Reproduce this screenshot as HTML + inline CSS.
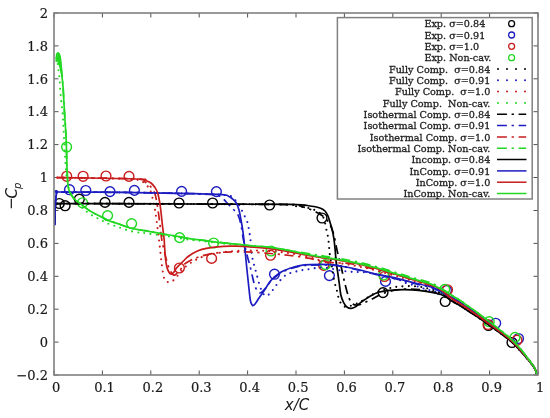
<!DOCTYPE html><html><head><meta charset="utf-8"><style>html,body{margin:0;padding:0;background:#fff;width:550px;height:418px;overflow:hidden}svg{display:block}</style></head><body>
<svg width="550" height="418" viewBox="0 0 550 418">
<rect width="550" height="418" fill="#fff"/>
<path d="M54.0,375.0v-4.5M54.0,13.0v4.5M102.4,375.0v-4.5M102.4,13.0v4.5M150.8,375.0v-4.5M150.8,13.0v4.5M199.2,375.0v-4.5M199.2,13.0v4.5M247.6,375.0v-4.5M247.6,13.0v4.5M296.0,375.0v-4.5M296.0,13.0v4.5M344.4,375.0v-4.5M344.4,13.0v4.5M392.8,375.0v-4.5M392.8,13.0v4.5M441.2,375.0v-4.5M441.2,13.0v4.5M489.6,375.0v-4.5M489.6,13.0v4.5M538.0,375.0v-4.5M538.0,13.0v4.5M54.0,375.0h4.5M538.0,375.0h-4.5M54.0,342.1h4.5M538.0,342.1h-4.5M54.0,309.2h4.5M538.0,309.2h-4.5M54.0,276.3h4.5M538.0,276.3h-4.5M54.0,243.4h4.5M538.0,243.4h-4.5M54.0,210.5h4.5M538.0,210.5h-4.5M54.0,177.5h4.5M538.0,177.5h-4.5M54.0,144.6h4.5M538.0,144.6h-4.5M54.0,111.7h4.5M538.0,111.7h-4.5M54.0,78.8h4.5M538.0,78.8h-4.5M54.0,45.9h4.5M538.0,45.9h-4.5M54.0,13.0h4.5M538.0,13.0h-4.5" stroke="#505050" stroke-width="1.0" fill="none"/>
<defs><clipPath id="cp"><rect x="54" y="13" width="484" height="362"/></clipPath></defs>
<g clip-path="url(#cp)" fill="none" stroke-width="1.7" stroke-linejoin="round">
<circle cx="59.3" cy="203.5" r="4.9" stroke="#000000" stroke-width="1.4"/>
<circle cx="65.1" cy="205.7" r="4.9" stroke="#000000" stroke-width="1.4"/>
<circle cx="79.3" cy="199.2" r="4.9" stroke="#000000" stroke-width="1.4"/>
<circle cx="105.0" cy="202.4" r="4.9" stroke="#000000" stroke-width="1.4"/>
<circle cx="129.0" cy="202.4" r="4.9" stroke="#000000" stroke-width="1.4"/>
<circle cx="179.0" cy="203.0" r="4.9" stroke="#000000" stroke-width="1.4"/>
<circle cx="212.6" cy="203.0" r="4.9" stroke="#000000" stroke-width="1.4"/>
<circle cx="269.6" cy="205.0" r="4.9" stroke="#000000" stroke-width="1.4"/>
<circle cx="322.0" cy="218.0" r="4.9" stroke="#000000" stroke-width="1.4"/>
<circle cx="383.0" cy="292.6" r="4.9" stroke="#000000" stroke-width="1.4"/>
<circle cx="445.2" cy="301.5" r="4.9" stroke="#000000" stroke-width="1.4"/>
<circle cx="488.5" cy="325.5" r="4.9" stroke="#000000" stroke-width="1.4"/>
<circle cx="512.0" cy="342.5" r="4.9" stroke="#000000" stroke-width="1.4"/>
<circle cx="69.5" cy="189.7" r="4.9" stroke="#1c1cc0" stroke-width="1.4"/>
<circle cx="85.8" cy="190.5" r="4.9" stroke="#1c1cc0" stroke-width="1.4"/>
<circle cx="110.0" cy="191.6" r="4.9" stroke="#1c1cc0" stroke-width="1.4"/>
<circle cx="134.4" cy="190.4" r="4.9" stroke="#1c1cc0" stroke-width="1.4"/>
<circle cx="181.6" cy="191.4" r="4.9" stroke="#1c1cc0" stroke-width="1.4"/>
<circle cx="216.4" cy="191.6" r="4.9" stroke="#1c1cc0" stroke-width="1.4"/>
<circle cx="274.5" cy="274.2" r="4.9" stroke="#1c1cc0" stroke-width="1.4"/>
<circle cx="329.4" cy="275.6" r="4.9" stroke="#1c1cc0" stroke-width="1.4"/>
<circle cx="385.5" cy="281.4" r="4.9" stroke="#1c1cc0" stroke-width="1.4"/>
<circle cx="446.5" cy="290.5" r="4.9" stroke="#1c1cc0" stroke-width="1.4"/>
<circle cx="495.7" cy="323.3" r="4.9" stroke="#1c1cc0" stroke-width="1.4"/>
<circle cx="518.5" cy="338.5" r="4.9" stroke="#1c1cc0" stroke-width="1.4"/>
<circle cx="66.7" cy="176.3" r="4.9" stroke="#c81c1c" stroke-width="1.4"/>
<circle cx="83.1" cy="176.3" r="4.9" stroke="#c81c1c" stroke-width="1.4"/>
<circle cx="106.0" cy="176.0" r="4.9" stroke="#c81c1c" stroke-width="1.4"/>
<circle cx="129.0" cy="176.4" r="4.9" stroke="#c81c1c" stroke-width="1.4"/>
<circle cx="179.4" cy="268.0" r="4.9" stroke="#c81c1c" stroke-width="1.4"/>
<circle cx="211.6" cy="258.4" r="4.9" stroke="#c81c1c" stroke-width="1.4"/>
<circle cx="270.5" cy="255.2" r="4.9" stroke="#c81c1c" stroke-width="1.4"/>
<circle cx="323.7" cy="265.4" r="4.9" stroke="#c81c1c" stroke-width="1.4"/>
<circle cx="384.5" cy="276.5" r="4.9" stroke="#c81c1c" stroke-width="1.4"/>
<circle cx="447.5" cy="289.8" r="4.9" stroke="#c81c1c" stroke-width="1.4"/>
<circle cx="488.0" cy="324.5" r="4.9" stroke="#c81c1c" stroke-width="1.4"/>
<circle cx="517.0" cy="340.2" r="4.9" stroke="#c81c1c" stroke-width="1.4"/>
<circle cx="66.6" cy="147.0" r="4.9" stroke="#22d822" stroke-width="1.4"/>
<circle cx="82.5" cy="202.8" r="4.9" stroke="#22d822" stroke-width="1.4"/>
<circle cx="107.6" cy="215.6" r="4.9" stroke="#22d822" stroke-width="1.4"/>
<circle cx="131.6" cy="223.6" r="4.9" stroke="#22d822" stroke-width="1.4"/>
<circle cx="179.6" cy="237.6" r="4.9" stroke="#22d822" stroke-width="1.4"/>
<circle cx="213.6" cy="243.0" r="4.9" stroke="#22d822" stroke-width="1.4"/>
<circle cx="271.0" cy="251.0" r="4.9" stroke="#22d822" stroke-width="1.4"/>
<circle cx="325.5" cy="264.6" r="4.9" stroke="#22d822" stroke-width="1.4"/>
<circle cx="383.6" cy="275.0" r="4.9" stroke="#22d822" stroke-width="1.4"/>
<circle cx="444.7" cy="289.4" r="4.9" stroke="#22d822" stroke-width="1.4"/>
<circle cx="489.2" cy="321.7" r="4.9" stroke="#22d822" stroke-width="1.4"/>
<circle cx="515.0" cy="337.4" r="4.9" stroke="#22d822" stroke-width="1.4"/>
<path d="M54.4,224.0 C54.5,221.5 54.7,212.3 54.9,209.0 C55.1,205.7 55.3,204.9 55.8,204.0 C56.3,203.1 50.6,203.7 58.0,203.6 C65.4,203.5 78.0,203.5 100.0,203.6 C122.0,203.7 159.2,203.8 190.0,204.0 C220.8,204.2 267.7,204.3 285.0,204.6 C302.3,204.9 291.0,205.6 294.0,206.0 C297.0,206.4 300.0,206.5 303.0,207.0 C306.0,207.5 309.2,208.0 312.0,209.0 C314.8,210.0 318.0,211.3 320.0,213.0 C322.0,214.7 323.0,216.5 324.0,219.0 C325.0,221.5 325.3,225.0 326.0,228.0 C326.7,231.0 327.5,234.0 328.0,237.0 C328.5,240.0 328.7,242.8 329.0,246.0 C329.3,249.2 329.5,252.5 330.0,256.0 C330.5,259.5 331.3,263.0 332.0,267.0 C332.7,271.0 333.2,276.0 334.0,280.0 C334.8,284.0 336.2,287.8 337.0,291.0 C337.8,294.2 338.0,296.5 339.0,299.0 C340.0,301.5 341.2,304.8 343.0,306.0 C344.8,307.2 347.2,306.7 350.0,306.0 C352.8,305.3 356.7,303.7 360.0,302.0 C363.3,300.3 366.7,297.8 370.0,296.0 C373.3,294.2 376.7,292.3 380.0,291.0 C383.3,289.7 386.7,288.8 390.0,288.0 C393.3,287.2 396.0,286.8 400.0,286.5 C404.0,286.2 409.7,285.9 414.0,286.2 C418.3,286.4 422.3,287.2 426.0,288.0 C429.7,288.8 432.8,289.8 436.0,291.0 C439.2,292.2 442.3,293.8 445.0,295.5 C447.7,297.2 449.6,299.5 452.0,301.1 C454.4,302.8 456.7,303.6 459.6,305.3 C462.5,307.1 466.0,309.5 469.2,311.6 C472.4,313.7 475.5,315.6 478.7,317.8 C481.9,320.0 485.0,322.2 488.3,324.5 C491.6,326.9 495.3,329.5 498.5,331.9 C501.7,334.2 505.1,336.7 507.7,338.7 C510.3,340.7 511.9,342.1 514.0,344.1 C516.1,346.1 518.2,348.4 520.3,350.8 C522.4,353.1 524.6,355.6 526.7,358.1 C528.8,360.6 531.5,363.8 533.0,365.8 C534.5,367.9 535.0,369.2 535.6,370.5 C536.2,371.8 536.3,372.8 536.5,373.5 C536.7,374.3 536.9,374.8 537.0,375.0" stroke="#000000" stroke-dasharray="0 6.2" stroke-linecap="round" stroke-width="2.1"/>
<path d="M54.8,224.4 C54.8,222.8 54.9,218.4 55.0,215.0 C55.1,211.6 55.2,207.0 55.4,204.0 C55.6,201.0 55.7,199.1 56.0,197.0 C56.3,194.9 56.5,192.0 57.0,191.2 C57.5,190.4 51.8,191.8 59.0,192.0 C66.2,192.2 84.8,192.1 100.0,192.2 C115.2,192.3 135.0,192.6 150.0,192.8 C165.0,193.0 177.5,193.2 190.0,193.6 C202.5,194.0 217.8,194.3 225.0,195.0 C232.2,195.7 230.7,196.3 233.0,198.0 C235.3,199.7 237.3,202.5 239.0,205.0 C240.7,207.5 241.7,210.3 243.0,213.0 C244.3,215.7 246.0,218.2 247.0,221.0 C248.0,223.8 248.4,226.8 249.0,230.0 C249.6,233.2 250.0,235.7 250.5,240.0 C251.0,244.3 251.1,250.7 252.0,256.0 C252.9,261.3 254.5,266.5 256.0,272.0 C257.5,277.5 259.3,285.0 261.0,289.0 C262.7,293.0 264.2,295.7 266.0,296.0 C267.8,296.3 270.0,293.2 272.0,291.0 C274.0,288.8 275.7,285.7 278.0,283.0 C280.3,280.3 282.7,277.0 286.0,275.0 C289.3,273.0 294.0,272.0 298.0,271.0 C302.0,270.0 305.7,269.6 310.0,269.0 C314.3,268.4 318.0,267.1 324.0,267.5 C330.0,267.9 339.3,270.6 346.0,271.4 C352.7,272.2 358.3,271.7 364.0,272.3 C369.7,272.9 374.3,273.8 380.0,275.0 C385.7,276.2 393.7,278.2 398.0,279.5 C402.3,280.8 403.2,282.0 406.0,283.0 C408.8,284.0 411.7,284.5 414.5,285.4 C417.3,286.3 419.9,287.4 422.7,288.3 C425.4,289.2 428.1,289.7 431.0,290.5 C433.9,291.3 436.5,291.8 440.0,293.0 C443.5,294.2 448.7,296.3 452.0,297.8 C455.3,299.4 456.7,300.4 459.6,302.3 C462.5,304.1 466.0,306.7 469.2,308.8 C472.4,311.0 475.5,313.1 478.7,315.4 C481.9,317.7 485.0,320.0 488.3,322.5 C491.6,324.9 495.3,327.6 498.5,330.1 C501.7,332.5 505.1,335.1 507.7,337.2 C510.3,339.3 511.9,340.7 514.0,342.8 C516.1,344.8 518.2,347.2 520.3,349.6 C522.4,352.1 524.6,354.7 526.7,357.4 C528.8,360.0 531.5,363.4 533.0,365.6 C534.5,367.7 535.0,369.1 535.6,370.4 C536.2,371.7 536.3,372.7 536.5,373.5 C536.7,374.3 536.9,374.7 537.0,375.0" stroke="#1c1cc0" stroke-dasharray="0 6.2" stroke-linecap="round" stroke-width="2.1"/>
<path d="M57.0,177.6 C62.5,177.7 77.0,177.7 90.0,178.0 C103.0,178.3 125.8,178.5 135.0,179.5 C144.2,180.5 142.5,182.2 145.0,184.0 C147.5,185.8 148.7,187.3 150.0,190.0 C151.3,192.7 152.2,196.7 153.0,200.0 C153.8,203.3 154.4,206.7 155.0,210.0 C155.6,213.3 156.0,216.3 156.5,220.0 C157.0,223.7 157.5,227.8 158.0,232.0 C158.5,236.2 159.0,240.0 159.6,245.0 C160.2,250.0 160.8,256.8 161.5,262.0 C162.2,267.2 162.8,272.8 163.5,276.0 C164.2,279.2 164.9,280.0 166.0,281.0 C167.1,282.0 168.5,282.3 170.0,282.0 C171.5,281.7 173.0,281.0 175.0,279.0 C177.0,277.0 179.2,272.8 182.0,270.0 C184.8,267.2 188.2,264.3 192.0,262.0 C195.8,259.7 199.5,257.7 205.0,256.0 C210.5,254.3 217.5,252.9 225.0,252.0 C232.5,251.1 241.7,250.6 250.0,250.5 C258.3,250.4 266.7,250.8 275.0,251.5 C283.3,252.2 291.8,253.4 300.0,255.0 C308.2,256.6 316.5,259.5 324.0,261.0 C331.5,262.5 337.3,262.7 345.0,264.0 C352.7,265.3 361.8,267.1 370.0,269.0 C378.2,270.9 387.0,273.6 394.0,275.5 C401.0,277.4 405.8,278.8 412.0,280.5 C418.2,282.2 426.3,284.4 431.0,286.0 C435.7,287.6 436.5,287.9 440.0,290.0 C443.5,292.1 448.7,296.6 452.0,298.8 C455.3,301.0 456.7,301.4 459.6,303.2 C462.5,305.0 466.0,307.6 469.2,309.7 C472.4,311.9 475.5,314.0 478.7,316.3 C481.9,318.5 485.0,320.9 488.3,323.3 C491.6,325.7 495.3,328.3 498.5,330.7 C501.7,333.1 505.1,335.6 507.7,337.7 C510.3,339.8 511.9,341.1 514.0,343.1 C516.1,345.2 518.2,347.5 520.3,349.9 C522.4,352.3 524.6,354.9 526.7,357.6 C528.8,360.2 531.5,363.5 533.0,365.6 C534.5,367.8 535.0,369.1 535.6,370.4 C536.2,371.7 536.3,372.7 536.5,373.5 C536.7,374.3 536.9,374.8 537.0,375.0" stroke="#c81c1c" stroke-dasharray="0 6.2" stroke-linecap="round" stroke-width="2.1"/>
<path d="M56.5,58.0 C56.6,58.7 57.1,60.0 57.4,62.0 C57.7,64.0 58.1,67.2 58.5,70.0 C58.9,72.8 59.2,75.8 59.5,79.0 C59.8,82.2 59.9,85.8 60.1,89.0 C60.4,92.2 60.7,95.4 61.0,98.4 C61.3,101.4 61.7,104.3 62.0,107.2 C62.3,110.1 62.6,113.0 62.8,115.9 C63.0,118.9 63.2,121.9 63.4,124.9 C63.6,127.9 63.6,130.0 63.8,133.7 C64.0,137.4 64.2,142.5 64.5,147.0 C64.8,151.5 65.0,156.2 65.3,160.9 C65.6,165.6 66.0,170.8 66.5,175.0 C67.0,179.2 67.4,183.2 68.0,186.0 C68.6,188.8 68.8,189.6 70.0,192.0 C71.2,194.4 73.2,198.3 75.0,200.7 C76.8,203.1 79.3,205.0 81.0,206.6 C82.7,208.2 83.5,208.8 85.0,210.1 C86.5,211.4 88.2,213.0 90.0,214.2 C91.8,215.4 94.2,216.5 95.9,217.4 C97.6,218.3 98.2,218.5 100.0,219.4 C101.8,220.3 105.1,222.2 106.8,223.0 C108.5,223.8 108.0,223.6 110.0,224.3 C112.0,225.0 115.4,226.0 118.5,227.1 C121.6,228.2 125.3,229.8 128.8,230.7 C132.3,231.6 136.8,232.2 139.5,232.6 C142.2,233.0 141.7,232.7 145.0,233.1 C148.3,233.6 154.7,234.5 159.5,235.2 C164.3,235.9 170.7,236.8 174.1,237.3 C177.5,237.8 177.2,237.8 180.0,238.3 C182.8,238.7 187.3,239.4 190.9,239.9 C194.5,240.3 198.2,240.6 201.8,241.0 C205.4,241.4 209.1,242.0 212.7,242.4 C216.3,242.9 220.0,243.2 223.6,243.6 C227.2,243.9 230.1,244.1 234.5,244.5 C238.9,244.9 244.1,245.6 250.0,246.1 C255.9,246.6 263.3,246.9 270.0,247.8 C276.7,248.6 283.3,249.7 290.0,251.0 C296.7,252.3 304.2,254.2 310.0,255.4 C315.8,256.5 320.0,257.1 325.0,257.9 C330.0,258.7 334.5,259.2 340.0,260.2 C345.5,261.1 352.0,262.3 358.0,263.7 C364.0,265.0 370.0,266.5 376.0,268.1 C382.0,269.8 388.0,271.7 394.0,273.5 C400.0,275.3 405.8,277.1 412.0,278.9 C418.2,280.7 426.3,282.7 431.0,284.4 C435.7,286.1 436.5,287.1 440.0,288.9 C443.5,290.7 448.7,293.6 452.0,295.5 C455.3,297.3 456.7,298.2 459.6,300.1 C462.5,302.0 466.0,304.6 469.2,306.9 C472.4,309.1 475.5,311.3 478.7,313.7 C481.9,316.0 485.0,318.4 488.3,320.9 C491.6,323.5 495.3,326.3 498.5,328.8 C501.7,331.3 505.1,333.9 507.7,336.1 C510.3,338.3 511.9,339.7 514.0,341.8 C516.1,343.9 518.2,346.3 520.3,348.8 C522.4,351.3 524.6,354.1 526.7,356.9 C528.8,359.7 531.5,363.1 533.0,365.4 C534.5,367.6 535.0,369.0 535.6,370.3 C536.2,371.7 536.3,372.7 536.5,373.5 C536.7,374.3 536.9,374.7 537.0,375.0" stroke="#22d822" stroke-dasharray="0 6.2" stroke-linecap="round" stroke-width="2.1"/>
<path d="M54.4,224.0 C54.5,221.5 54.7,212.3 54.9,209.0 C55.1,205.7 55.3,204.9 55.8,204.0 C56.3,203.1 50.6,203.7 58.0,203.6 C65.4,203.5 78.0,203.5 100.0,203.6 C122.0,203.7 158.3,203.8 190.0,204.0 C221.7,204.2 271.7,204.3 290.0,204.6 C308.3,204.9 297.0,205.3 300.0,206.0 C303.0,206.7 305.0,207.3 308.0,208.5 C311.0,209.7 314.8,211.1 318.0,213.0 C321.2,214.9 324.5,216.8 327.0,220.0 C329.5,223.2 331.3,227.0 333.0,232.0 C334.7,237.0 335.7,244.3 337.0,250.0 C338.3,255.7 339.7,260.3 341.0,266.0 C342.3,271.7 343.7,278.7 345.0,284.0 C346.3,289.3 347.7,294.7 349.0,298.0 C350.3,301.3 351.5,302.8 353.0,304.0 C354.5,305.2 356.2,305.2 358.0,305.0 C359.8,304.8 361.7,304.0 364.0,303.0 C366.3,302.0 369.0,300.5 372.0,299.0 C375.0,297.5 378.0,295.5 382.0,294.0 C386.0,292.5 391.3,290.8 396.0,290.0 C400.7,289.2 405.0,288.9 410.0,289.0 C415.0,289.1 421.0,289.6 426.0,290.5 C431.0,291.4 435.7,292.7 440.0,294.5 C444.3,296.3 448.7,299.3 452.0,301.1 C455.3,303.0 456.7,303.6 459.6,305.3 C462.5,307.1 466.0,309.5 469.2,311.6 C472.4,313.7 475.5,315.6 478.7,317.8 C481.9,320.0 485.0,322.2 488.3,324.5 C491.6,326.9 495.3,329.5 498.5,331.9 C501.7,334.2 505.1,336.7 507.7,338.7 C510.3,340.7 511.9,342.1 514.0,344.1 C516.1,346.1 518.2,348.4 520.3,350.8 C522.4,353.1 524.6,355.6 526.7,358.1 C528.8,360.6 531.5,363.8 533.0,365.8 C534.5,367.9 535.0,369.2 535.6,370.5 C536.2,371.8 536.3,372.8 536.5,373.5 C536.7,374.3 536.9,374.8 537.0,375.0" stroke="#000000" stroke-dasharray="9 4.6 2.3 4.6"/>
<path d="M54.8,224.4 C54.8,222.8 54.9,218.4 55.0,215.0 C55.1,211.6 55.2,207.0 55.4,204.0 C55.6,201.0 55.7,199.1 56.0,197.0 C56.3,194.9 56.5,192.0 57.0,191.2 C57.5,190.4 51.8,191.8 59.0,192.0 C66.2,192.2 84.8,192.1 100.0,192.2 C115.2,192.3 135.0,192.6 150.0,192.8 C165.0,193.0 179.2,193.3 190.0,193.6 C200.8,193.9 209.7,194.1 215.0,194.8 C220.3,195.5 219.8,196.5 222.0,198.0 C224.2,199.5 226.2,202.2 228.0,204.0 C229.8,205.8 231.3,207.2 233.0,209.0 C234.7,210.8 236.7,212.3 238.0,215.0 C239.3,217.7 240.1,220.8 241.0,225.0 C241.9,229.2 242.5,235.0 243.5,240.0 C244.5,245.0 245.9,250.7 247.0,255.0 C248.1,259.3 249.0,262.0 250.0,266.0 C251.0,270.0 252.2,275.7 253.0,279.0 C253.8,282.3 254.2,283.9 255.0,286.0 C255.8,288.1 256.7,290.3 257.5,291.5 C258.3,292.7 259.1,293.1 260.0,293.0 C260.9,292.9 262.0,291.9 263.0,291.0 C264.0,290.1 264.7,289.1 266.0,287.5 C267.3,285.9 268.9,283.4 270.6,281.5 C272.3,279.6 274.5,277.6 276.4,276.0 C278.3,274.4 279.8,273.2 282.1,272.0 C284.4,270.8 287.0,269.8 290.0,268.8 C293.0,267.8 296.7,266.6 300.0,266.0 C303.3,265.4 304.2,265.3 310.0,265.2 C315.8,265.1 327.0,264.5 335.0,265.3 C343.0,266.1 351.2,268.5 358.0,270.0 C364.8,271.5 370.0,273.1 376.0,274.5 C382.0,275.9 388.0,277.1 394.0,278.5 C400.0,279.9 405.8,281.5 412.0,283.0 C418.2,284.5 426.3,286.1 431.0,287.5 C435.7,288.9 436.5,289.8 440.0,291.5 C443.5,293.2 448.7,296.0 452.0,297.8 C455.3,299.6 456.7,300.4 459.6,302.3 C462.5,304.1 466.0,306.7 469.2,308.8 C472.4,311.0 475.5,313.1 478.7,315.4 C481.9,317.7 485.0,320.0 488.3,322.5 C491.6,324.9 495.3,327.6 498.5,330.1 C501.7,332.5 505.1,335.1 507.7,337.2 C510.3,339.3 511.9,340.7 514.0,342.8 C516.1,344.8 518.2,347.2 520.3,349.6 C522.4,352.1 524.6,354.7 526.7,357.4 C528.8,360.0 531.5,363.4 533.0,365.6 C534.5,367.7 535.0,369.1 535.6,370.4 C536.2,371.7 536.3,372.7 536.5,373.5 C536.7,374.3 536.9,374.7 537.0,375.0" stroke="#1c1cc0" stroke-dasharray="9 4.6 2.3 4.6"/>
<path d="M57.0,177.6 C62.5,177.7 76.5,177.8 90.0,178.0 C103.5,178.2 128.8,178.3 138.0,179.0 C147.2,179.7 143.0,180.8 145.0,182.0 C147.0,183.2 148.3,184.0 150.0,186.0 C151.7,188.0 153.7,190.0 155.0,194.0 C156.3,198.0 157.2,204.8 158.0,210.0 C158.8,215.2 159.4,220.0 160.0,225.0 C160.6,230.0 161.1,235.8 161.8,240.0 C162.5,244.2 163.2,246.7 164.0,250.0 C164.8,253.3 165.7,257.0 166.5,260.0 C167.3,263.0 168.1,265.8 169.0,268.0 C169.9,270.2 171.0,272.3 172.0,273.5 C173.0,274.7 173.7,275.6 175.0,275.0 C176.3,274.4 178.2,272.0 180.0,270.0 C181.8,268.0 182.7,265.2 186.0,263.0 C189.3,260.8 194.3,258.2 200.0,256.5 C205.7,254.8 212.3,253.3 220.0,252.5 C227.7,251.7 237.7,251.7 246.0,251.9 C254.3,252.1 262.7,252.9 270.0,253.5 C277.3,254.1 283.3,254.7 290.0,255.5 C296.7,256.3 304.3,257.3 310.0,258.4 C315.7,259.5 319.0,261.2 324.0,262.0 C329.0,262.8 335.3,262.7 340.0,263.0 C344.7,263.3 347.5,263.2 352.0,264.0 C356.5,264.8 360.7,266.0 367.0,267.5 C373.3,269.0 382.5,271.0 390.0,273.0 C397.5,275.0 405.2,277.3 412.0,279.5 C418.8,281.7 426.3,284.2 431.0,286.0 C435.7,287.8 436.5,287.9 440.0,290.0 C443.5,292.1 448.7,296.6 452.0,298.8 C455.3,301.0 456.7,301.4 459.6,303.2 C462.5,305.0 466.0,307.6 469.2,309.7 C472.4,311.9 475.5,314.0 478.7,316.3 C481.9,318.5 485.0,320.9 488.3,323.3 C491.6,325.7 495.3,328.3 498.5,330.7 C501.7,333.1 505.1,335.6 507.7,337.7 C510.3,339.8 511.9,341.1 514.0,343.1 C516.1,345.2 518.2,347.5 520.3,349.9 C522.4,352.3 524.6,354.9 526.7,357.6 C528.8,360.2 531.5,363.5 533.0,365.6 C534.5,367.8 535.0,369.1 535.6,370.4 C536.2,371.7 536.3,372.7 536.5,373.5 C536.7,374.3 536.9,374.8 537.0,375.0" stroke="#c81c1c" stroke-dasharray="9 4.6 2.3 4.6"/>
<path d="M61.3,68.0 C61.4,69.4 61.7,73.6 62.0,76.6 C62.3,79.6 62.7,82.1 63.0,86.0 C63.3,89.9 63.5,94.5 63.8,100.0 C64.1,105.5 64.5,112.9 64.9,118.7 C65.3,124.5 65.7,129.8 66.0,135.0 C66.3,140.2 66.3,144.5 66.5,150.0 C66.7,155.5 66.8,162.5 67.0,168.0 C67.2,173.5 67.5,179.3 67.8,183.0 C68.1,186.7 68.5,188.1 69.0,190.0 C69.5,191.9 70.0,192.9 71.0,194.5 C72.0,196.1 73.3,197.9 75.0,199.5 C76.7,201.1 79.3,203.0 81.0,204.3 C82.7,205.6 83.5,206.3 85.0,207.4 C86.5,208.5 88.2,209.9 90.0,211.0 C91.8,212.1 94.2,213.3 95.9,214.2 C97.6,215.1 98.2,215.3 100.0,216.2 C101.8,217.1 105.1,219.0 106.8,219.8 C108.5,220.6 108.0,220.4 110.0,221.1 C112.0,221.8 115.4,222.8 118.5,223.9 C121.6,225.0 125.3,226.5 128.8,227.5 C132.3,228.5 136.8,229.4 139.5,229.9 C142.2,230.4 141.7,230.1 145.0,230.7 C148.3,231.3 154.7,232.5 159.5,233.3 C164.3,234.2 170.7,235.2 174.1,235.8 C177.5,236.4 177.2,236.4 180.0,236.9 C182.8,237.4 187.3,238.2 190.9,238.8 C194.5,239.4 198.2,239.7 201.8,240.2 C205.4,240.7 209.1,241.2 212.7,241.7 C216.3,242.1 220.0,242.5 223.6,242.9 C227.2,243.3 230.1,243.5 234.5,243.9 C238.9,244.3 244.1,245.0 250.0,245.6 C255.9,246.2 263.3,246.5 270.0,247.3 C276.7,248.1 283.3,249.5 290.0,250.6 C296.7,251.7 304.2,252.9 310.0,253.8 C315.8,254.8 320.0,255.5 325.0,256.3 C330.0,257.1 334.5,257.6 340.0,258.6 C345.5,259.6 352.0,260.8 358.0,262.1 C364.0,263.4 370.0,265.0 376.0,266.6 C382.0,268.2 388.0,270.2 394.0,272.0 C400.0,273.8 405.8,275.6 412.0,277.4 C418.2,279.2 426.3,281.2 431.0,282.9 C435.7,284.6 436.5,285.3 440.0,287.4 C443.5,289.5 448.7,293.3 452.0,295.5 C455.3,297.6 456.7,298.2 459.6,300.1 C462.5,302.0 466.0,304.6 469.2,306.9 C472.4,309.1 475.5,311.3 478.7,313.7 C481.9,316.0 485.0,318.4 488.3,320.9 C491.6,323.5 495.3,326.3 498.5,328.8 C501.7,331.3 505.1,333.9 507.7,336.1 C510.3,338.3 511.9,339.7 514.0,341.8 C516.1,343.9 518.2,346.3 520.3,348.8 C522.4,351.3 524.6,354.1 526.7,356.9 C528.8,359.7 531.5,363.1 533.0,365.4 C534.5,367.6 535.0,369.0 535.6,370.3 C536.2,371.7 536.3,372.7 536.5,373.5 C536.7,374.3 536.9,374.7 537.0,375.0" stroke="#22d822" stroke-dasharray="9 4.6 2.3 4.6"/>
<path d="M54.4,224.0 C54.5,221.5 54.7,212.3 54.9,209.0 C55.1,205.7 55.3,204.9 55.8,204.0 C56.3,203.1 50.6,203.7 58.0,203.6 C65.4,203.5 78.0,203.5 100.0,203.6 C122.0,203.7 158.3,203.9 190.0,204.0 C221.7,204.1 270.0,204.1 290.0,204.4 C310.0,204.7 305.0,205.4 310.0,206.0 C315.0,206.6 317.5,207.2 320.0,208.0 C322.5,208.8 323.7,209.7 325.0,211.0 C326.3,212.3 327.3,214.5 328.0,216.0 C328.7,217.5 328.7,218.0 329.3,220.1 C329.9,222.2 331.1,225.4 331.9,228.5 C332.7,231.6 333.3,235.0 333.9,238.6 C334.4,242.2 334.8,246.4 335.2,250.3 C335.6,254.2 335.8,258.6 336.2,262.0 C336.6,265.4 337.0,267.5 337.5,271.0 C338.0,274.5 338.6,279.0 339.2,283.0 C339.8,287.0 340.1,291.6 340.8,294.8 C341.5,298.0 342.4,300.2 343.5,302.3 C344.6,304.4 345.8,306.2 347.2,307.2 C348.6,308.2 350.2,308.4 351.6,308.3 C353.1,308.2 354.5,307.5 355.9,306.6 C357.3,305.7 358.6,304.1 360.2,302.9 C361.8,301.6 363.5,300.5 365.6,299.1 C367.8,297.7 371.0,295.8 373.1,294.6 C375.2,293.5 375.8,292.9 378.5,292.2 C381.2,291.5 385.2,290.7 389.5,290.3 C393.8,289.9 399.2,289.6 404.1,289.6 C409.0,289.6 413.8,289.8 418.6,290.3 C423.5,290.8 429.1,291.7 433.2,292.6 C437.3,293.5 440.3,294.1 443.4,295.5 C446.5,296.9 449.3,299.5 452.0,301.1 C454.7,302.8 456.7,303.6 459.6,305.3 C462.5,307.1 466.0,309.5 469.2,311.6 C472.4,313.7 475.5,315.6 478.7,317.8 C481.9,320.0 485.0,322.2 488.3,324.5 C491.6,326.9 495.3,329.5 498.5,331.9 C501.7,334.2 505.1,336.7 507.7,338.7 C510.3,340.7 511.9,342.1 514.0,344.1 C516.1,346.1 518.2,348.4 520.3,350.8 C522.4,353.1 524.6,355.6 526.7,358.1 C528.8,360.6 531.5,363.8 533.0,365.8 C534.5,367.9 535.0,369.2 535.6,370.5 C536.2,371.8 536.3,372.8 536.5,373.5 C536.7,374.3 536.9,374.8 537.0,375.0" stroke="#000000"/>
<path d="M54.8,224.4 C54.8,222.8 54.9,218.4 55.0,215.0 C55.1,211.6 55.2,207.0 55.4,204.0 C55.6,201.0 55.7,199.1 56.0,197.0 C56.3,194.9 56.5,192.0 57.0,191.2 C57.5,190.4 51.8,191.8 59.0,192.0 C66.2,192.2 84.8,192.1 100.0,192.2 C115.2,192.3 135.0,192.6 150.0,192.8 C165.0,193.0 178.0,193.3 190.0,193.6 C202.0,193.9 215.7,194.2 222.0,194.6 C228.3,195.0 226.3,195.3 228.0,196.0 C229.7,196.7 230.7,197.4 232.0,198.5 C233.3,199.6 234.8,200.6 236.0,202.5 C237.2,204.4 238.2,207.1 239.0,210.0 C239.8,212.9 240.3,216.3 241.0,220.0 C241.7,223.7 242.3,227.0 243.0,232.0 C243.7,237.0 244.3,243.7 245.0,250.0 C245.7,256.3 246.3,263.5 247.0,270.0 C247.7,276.5 248.4,283.8 249.0,289.0 C249.6,294.2 249.9,298.2 250.5,301.0 C251.1,303.8 251.8,305.0 252.5,305.5 C253.2,306.0 253.9,305.2 255.0,304.0 C256.1,302.8 257.4,300.4 259.0,298.0 C260.6,295.6 263.4,291.8 264.9,289.6 C266.3,287.4 266.8,286.4 267.7,285.0 C268.6,283.6 269.6,282.1 270.6,280.9 C271.6,279.7 272.5,278.7 273.5,277.8 C274.5,276.9 275.4,276.3 276.4,275.5 C277.3,274.7 278.2,273.9 279.2,273.2 C280.1,272.5 281.1,272.0 282.1,271.5 C283.1,271.0 283.7,270.8 285.0,270.3 C286.3,269.8 287.5,269.1 290.0,268.3 C292.5,267.5 296.7,266.2 300.0,265.6 C303.3,265.0 305.0,264.9 310.0,264.7 C315.0,264.5 325.0,264.4 330.0,264.6 C335.0,264.8 335.3,265.2 340.0,266.0 C344.7,266.8 352.0,268.2 358.0,269.5 C364.0,270.8 370.0,272.6 376.0,274.0 C382.0,275.4 388.0,276.3 394.0,277.7 C400.0,279.1 405.8,280.8 412.0,282.3 C418.2,283.9 426.3,285.6 431.0,287.0 C435.7,288.4 436.5,289.2 440.0,291.0 C443.5,292.8 448.7,295.9 452.0,297.8 C455.3,299.7 456.7,300.4 459.6,302.3 C462.5,304.1 466.0,306.7 469.2,308.8 C472.4,311.0 475.5,313.1 478.7,315.4 C481.9,317.7 485.0,320.0 488.3,322.5 C491.6,324.9 495.3,327.6 498.5,330.1 C501.7,332.5 505.1,335.1 507.7,337.2 C510.3,339.3 511.9,340.7 514.0,342.8 C516.1,344.8 518.2,347.2 520.3,349.6 C522.4,352.1 524.6,354.7 526.7,357.4 C528.8,360.0 531.5,363.4 533.0,365.6 C534.5,367.7 535.0,369.1 535.6,370.4 C536.2,371.7 536.3,372.7 536.5,373.5 C536.7,374.3 536.9,374.7 537.0,375.0" stroke="#1c1cc0"/>
<path d="M57.0,177.6 C62.5,177.7 76.2,177.8 90.0,178.0 C103.8,178.2 130.7,178.6 140.0,179.0 C149.3,179.4 144.2,179.8 146.0,180.5 C147.8,181.2 149.5,181.8 151.0,183.0 C152.5,184.2 153.8,185.7 155.0,187.5 C156.2,189.3 157.1,190.6 158.0,194.0 C158.9,197.4 159.8,202.7 160.5,208.0 C161.2,213.3 161.9,220.7 162.5,226.0 C163.1,231.3 163.8,235.0 164.2,240.0 C164.6,245.0 164.8,251.5 165.2,256.0 C165.6,260.5 166.2,264.1 166.8,266.8 C167.4,269.5 168.3,271.1 169.0,272.3 C169.7,273.5 170.3,274.2 171.1,274.2 C171.9,274.2 172.9,273.3 173.8,272.3 C174.7,271.3 175.2,269.6 176.5,268.0 C177.8,266.4 180.1,264.4 181.9,262.6 C183.7,260.8 185.5,258.7 187.3,257.2 C189.1,255.7 190.2,254.7 192.6,253.4 C195.0,252.1 198.5,250.4 201.8,249.4 C205.2,248.4 209.1,247.8 212.7,247.3 C216.3,246.8 219.7,246.5 223.6,246.3 C227.5,246.1 231.6,246.1 236.0,246.2 C240.4,246.3 244.3,246.4 250.0,246.8 C255.7,247.2 263.3,247.8 270.0,248.6 C276.7,249.4 283.3,250.7 290.0,251.9 C296.7,253.1 304.2,254.6 310.0,255.6 C315.8,256.6 320.0,257.3 325.0,258.1 C330.0,258.9 334.5,259.4 340.0,260.4 C345.5,261.4 352.0,262.6 358.0,263.9 C364.0,265.2 370.0,266.8 376.0,268.4 C382.0,270.0 388.0,272.0 394.0,273.8 C400.0,275.6 405.8,277.4 412.0,279.2 C418.2,281.0 426.3,283.0 431.0,284.7 C435.7,286.4 436.5,286.8 440.0,289.2 C443.5,291.6 448.7,296.5 452.0,298.8 C455.3,301.1 456.7,301.4 459.6,303.2 C462.5,305.0 466.0,307.6 469.2,309.7 C472.4,311.9 475.5,314.0 478.7,316.3 C481.9,318.5 485.0,320.9 488.3,323.3 C491.6,325.7 495.3,328.3 498.5,330.7 C501.7,333.1 505.1,335.6 507.7,337.7 C510.3,339.8 511.9,341.1 514.0,343.1 C516.1,345.2 518.2,347.5 520.3,349.9 C522.4,352.3 524.6,354.9 526.7,357.6 C528.8,360.2 531.5,363.5 533.0,365.6 C534.5,367.8 535.0,369.1 535.6,370.4 C536.2,371.7 536.3,372.7 536.5,373.5 C536.7,374.3 536.9,374.8 537.0,375.0" stroke="#c81c1c"/>
<path d="M56.3,62.0 C56.3,60.8 56.4,56.5 56.6,55.0 C56.8,53.5 57.2,53.4 57.6,53.2 C58.0,53.0 58.6,53.2 59.0,53.8 C59.4,54.4 59.8,55.6 60.1,57.0 C60.4,58.4 60.6,60.2 60.8,62.0 C61.0,63.8 61.1,65.6 61.3,68.0 C61.5,70.4 61.7,73.6 62.0,76.6 C62.3,79.6 62.7,82.1 63.0,86.0 C63.3,89.9 63.5,94.5 63.8,100.0 C64.1,105.5 64.5,112.9 64.9,118.7 C65.3,124.5 65.7,129.8 66.0,135.0 C66.3,140.2 66.3,144.5 66.5,150.0 C66.7,155.5 66.8,162.5 67.0,168.0 C67.2,173.5 67.5,179.3 67.8,183.0 C68.1,186.7 68.5,188.1 69.0,190.0 C69.5,191.9 70.0,192.9 71.0,194.5 C72.0,196.1 73.3,197.9 75.0,199.5 C76.7,201.1 79.3,203.0 81.0,204.3 C82.7,205.6 83.5,206.3 85.0,207.4 C86.5,208.5 88.2,209.9 90.0,211.0 C91.8,212.1 94.2,213.3 95.9,214.2 C97.6,215.1 98.2,215.3 100.0,216.2 C101.8,217.1 105.1,219.0 106.8,219.8 C108.5,220.6 108.0,220.4 110.0,221.1 C112.0,221.8 115.4,222.8 118.5,223.9 C121.6,225.0 125.3,226.5 128.8,227.5 C132.3,228.5 136.8,229.4 139.5,229.9 C142.2,230.4 141.7,230.1 145.0,230.7 C148.3,231.3 154.7,232.5 159.5,233.3 C164.3,234.2 170.7,235.2 174.1,235.8 C177.5,236.4 177.2,236.4 180.0,236.9 C182.8,237.4 187.3,238.2 190.9,238.8 C194.5,239.4 198.2,239.7 201.8,240.2 C205.4,240.7 209.1,241.2 212.7,241.7 C216.3,242.1 220.0,242.5 223.6,242.9 C227.2,243.3 230.1,243.5 234.5,243.9 C238.9,244.3 244.1,245.0 250.0,245.6 C255.9,246.2 263.3,246.5 270.0,247.3 C276.7,248.1 283.3,249.3 290.0,250.6 C296.7,251.9 304.2,253.8 310.0,255.0 C315.8,256.1 320.0,256.7 325.0,257.5 C330.0,258.3 334.5,258.8 340.0,259.8 C345.5,260.8 352.0,262.0 358.0,263.3 C364.0,264.6 370.0,266.2 376.0,267.8 C382.0,269.4 388.0,271.4 394.0,273.2 C400.0,275.0 405.8,276.8 412.0,278.6 C418.2,280.4 426.3,282.4 431.0,284.1 C435.7,285.8 436.5,286.7 440.0,288.6 C443.5,290.5 448.7,293.5 452.0,295.5 C455.3,297.4 456.7,298.2 459.6,300.1 C462.5,302.0 466.0,304.6 469.2,306.9 C472.4,309.1 475.5,311.3 478.7,313.7 C481.9,316.0 485.0,318.4 488.3,320.9 C491.6,323.5 495.3,326.3 498.5,328.8 C501.7,331.3 505.1,333.9 507.7,336.1 C510.3,338.3 511.9,339.7 514.0,341.8 C516.1,343.9 518.2,346.3 520.3,348.8 C522.4,351.3 524.6,354.1 526.7,356.9 C528.8,359.7 531.5,363.1 533.0,365.4 C534.5,367.6 535.0,369.0 535.6,370.3 C536.2,371.7 536.3,372.7 536.5,373.5 C536.7,374.3 536.9,374.7 537.0,375.0" stroke="#22d822"/>
<path d="M56.2,55 L56.6,53.2 L57.5,52.5 L58.8,52.8 L59.8,54 L60.5,57 L61,61.4 L61.6,68 L62.3,76 L61.3,76 L59.5,68 L57.3,61.5 L56.3,58 Z" fill="#22d822" stroke="none"/>
</g>
<rect x="337.4" y="17.6" width="194.8" height="181.4" fill="#fff" stroke="#808080" stroke-width="1.5"/>
<rect x="54" y="13" width="484" height="362" fill="none" stroke="#808080" stroke-width="1.6"/>
<g font-family="DejaVu Serif, Liberation Serif, serif" font-size="13" fill="#1a1a1a" stroke="#1a1a1a" stroke-width="0.2">
<text x="56.1" y="391.8" text-anchor="middle">0</text>
<text x="104.5" y="391.8" text-anchor="middle">0.1</text>
<text x="152.9" y="391.8" text-anchor="middle">0.2</text>
<text x="201.3" y="391.8" text-anchor="middle">0.3</text>
<text x="249.7" y="391.8" text-anchor="middle">0.4</text>
<text x="298.1" y="391.8" text-anchor="middle">0.5</text>
<text x="346.5" y="391.8" text-anchor="middle">0.6</text>
<text x="394.9" y="391.8" text-anchor="middle">0.7</text>
<text x="443.3" y="391.8" text-anchor="middle">0.8</text>
<text x="491.7" y="391.8" text-anchor="middle">0.9</text>
<text x="540.1" y="391.8" text-anchor="middle">1</text>
<text x="48" y="379.7" text-anchor="end">−0.2</text>
<text x="48" y="346.8" text-anchor="end">0</text>
<text x="48" y="313.9" text-anchor="end">0.2</text>
<text x="48" y="281.0" text-anchor="end">0.4</text>
<text x="48" y="248.1" text-anchor="end">0.6</text>
<text x="48" y="215.2" text-anchor="end">0.8</text>
<text x="48" y="182.2" text-anchor="end">1</text>
<text x="48" y="149.3" text-anchor="end">1.2</text>
<text x="48" y="116.4" text-anchor="end">1.4</text>
<text x="48" y="83.5" text-anchor="end">1.6</text>
<text x="48" y="50.6" text-anchor="end">1.8</text>
<text x="48" y="17.7" text-anchor="end">2</text>
</g>
<text x="297" y="409.5" text-anchor="middle" font-family="DejaVu Sans, Liberation Sans, sans-serif" font-style="italic" font-size="15" fill="#1a1a1a">x/C</text>
<g transform="translate(16.5,195) rotate(-90)"><text font-family="DejaVu Sans, Liberation Sans, sans-serif" font-style="italic" font-size="15" fill="#1a1a1a"><tspan x="-14.7" y="-1">−</tspan><tspan x="-3.4" y="0">C</tspan><tspan x="6.0" y="4.5" font-size="10">p</tspan></text></g>
<g font-family="DejaVu Serif, Liberation Serif, serif" font-size="10" fill="#1e1e1e" stroke="#1e1e1e" stroke-width="0.3">
<text transform="translate(424.4,27.3) scale(0.965,1)">Exp. σ=0.84</text>
<text transform="translate(424.4,38.6) scale(0.965,1)">Exp. σ=0.91</text>
<text transform="translate(424.4,49.9) scale(0.965,1)">Exp. σ=1.0</text>
<text transform="translate(424.4,61.3) scale(0.965,1)">Exp. Non-cav.</text>
<text transform="translate(490.3,72.6) scale(0.965,1)" text-anchor="end">Fully Comp.  σ=0.84</text>
<text transform="translate(490.3,83.9) scale(0.965,1)" text-anchor="end">Fully Comp.  σ=0.91</text>
<text transform="translate(490.3,95.2) scale(0.965,1)" text-anchor="end">Fully Comp.  σ=1.0</text>
<text transform="translate(490.3,106.5) scale(0.965,1)" text-anchor="end">Fully Comp.  Non-cav.</text>
<text transform="translate(490.3,117.9) scale(0.965,1)" text-anchor="end">Isothermal Comp. σ=0.84</text>
<text transform="translate(490.3,129.2) scale(0.965,1)" text-anchor="end">Isothermal Comp. σ=0.91</text>
<text transform="translate(490.3,140.5) scale(0.965,1)" text-anchor="end">Isothermal Comp. σ=1.0</text>
<text transform="translate(490.3,151.8) scale(0.965,1)" text-anchor="end">Isothermal Comp. Non-cav.</text>
<text transform="translate(490.3,163.1) scale(0.965,1)" text-anchor="end">Incomp. σ=0.84</text>
<text transform="translate(490.3,174.5) scale(0.965,1)" text-anchor="end">InComp. σ=0.91</text>
<text transform="translate(490.3,185.8) scale(0.965,1)" text-anchor="end">InComp. σ=1.0</text>
<text transform="translate(490.3,197.1) scale(0.965,1)" text-anchor="end">InComp. Non-cav.</text>
</g>
<g fill="none" stroke-width="1.5">
<circle cx="511.6" cy="23.7" r="3" stroke="#000000" stroke-width="1.3"/>
<circle cx="511.6" cy="35.0" r="3" stroke="#1c1cc0" stroke-width="1.3"/>
<circle cx="511.6" cy="46.3" r="3" stroke="#c81c1c" stroke-width="1.3"/>
<circle cx="511.6" cy="57.7" r="3" stroke="#22d822" stroke-width="1.3"/>
<path d="M498,69.0H527" stroke="#000000" stroke-dasharray="0 9" stroke-linecap="round" stroke-width="2"/>
<path d="M498,80.3H527" stroke="#1c1cc0" stroke-dasharray="0 9" stroke-linecap="round" stroke-width="2"/>
<path d="M498,91.6H527" stroke="#c81c1c" stroke-dasharray="0 9" stroke-linecap="round" stroke-width="2"/>
<path d="M498,102.9H527" stroke="#22d822" stroke-dasharray="0 9" stroke-linecap="round" stroke-width="2"/>
<path d="M497,114.3H526.2" stroke="#000000" stroke-dasharray="9.9 4.7 2.3 4.7"/>
<path d="M497,125.6H526.2" stroke="#1c1cc0" stroke-dasharray="9.9 4.7 2.3 4.7"/>
<path d="M497,136.9H526.2" stroke="#c81c1c" stroke-dasharray="9.9 4.7 2.3 4.7"/>
<path d="M497,148.2H526.2" stroke="#22d822" stroke-dasharray="9.9 4.7 2.3 4.7"/>
<path d="M497,159.5H526.5" stroke="#000000"/>
<path d="M497,170.9H526.5" stroke="#1c1cc0"/>
<path d="M497,182.2H526.5" stroke="#c81c1c"/>
<path d="M497,193.5H526.5" stroke="#22d822"/>
</g>
</svg></body></html>
